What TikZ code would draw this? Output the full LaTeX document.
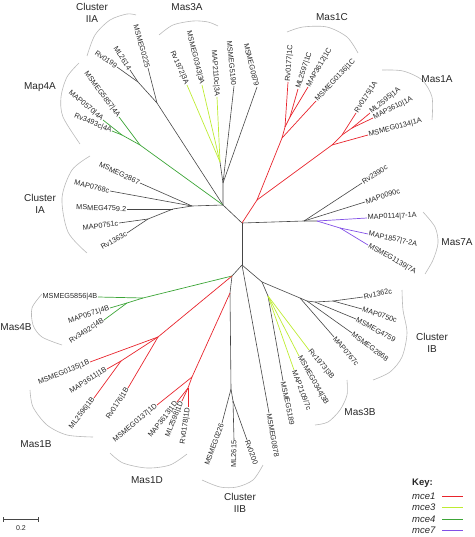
\documentclass[tikz,border=0pt]{standalone}
\usepackage{fontspec}
\setmainfont{Liberation Sans}
\usepackage{xcolor}
\usepackage{tikz}
\definecolor{treeGray}{RGB}{70, 70, 70}
\definecolor{arcGray}{RGB}{185, 185, 185}
\definecolor{mceOne}{RGB}{232, 36, 44}
\definecolor{mceThree}{RGB}{190, 236, 50}
\definecolor{mceFour}{RGB}{60, 165, 55}
\definecolor{mceSeven}{RGB}{130, 80, 230}

\begin{document}
\begin{tikzpicture}[x=1pt, y=-1pt,
	treeLine/.style={draw=treeGray, line width=0.6pt},
	oneLine/.style={draw=mceOne, line width=0.7pt},
	threeLine/.style={draw=mceThree, line width=0.7pt},
	fourLine/.style={draw=mceFour, line width=0.7pt},
	sevenLine/.style={draw=mceSeven, line width=0.7pt},
	arcLine/.style={draw=arcGray, line width=0.6pt},
	leafL/.style={font=\fontsize{7.3}{8}\selectfont, text=black!85, inner sep=0.6pt, anchor=east},
	leafR/.style={font=\fontsize{7.3}{8}\selectfont, text=black!85, inner sep=0.6pt, anchor=west},
	groupLbl/.style={font=\fontsize{10}{12}\selectfont, align=center, text=black!85}]
	\useasboundingbox (0,0) rectangle (474,537);
	
	% Centre of the tree
	\coordinate (top) at (242,223);
	\coordinate (bot) at (242,265);
	\draw[treeLine] (top) -- (bot);
	
	% Upper left part
	\coordinate (a) at (223,205);
	\draw[treeLine] (top) -- (a);
	
	% Cluster IIA
	\coordinate (iia2) at (157,103);
	\coordinate (iia1) at (138,82);
	\draw[treeLine] (a) -- (iia2) -- (iia1);
	\node[leafL, rotate=-35] (rv0199) at (117,67) {Rv0199};
	\node[leafL, rotate=-58] (ml2614) at (130,70) {ML2614};
	\node[leafL, rotate=-74] (ms0225) at (148,68) {MSMEG0225};
	\draw[treeLine] (iia1) -- (rv0199.east);
	\draw[treeLine] (iia1) -- (ml2614.east);
	\draw[treeLine] (iia2) -- (ms0225.east);
	
	% Map4A (mce4)
	\coordinate (m4a) at (140,145);
	\coordinate (m4a2) at (122,135);
	\draw[fourLine] (a) -- (m4a) -- (m4a2);
	\node[leafL, rotate=-53] (ms5857) at (119,117) {MSMEG5857|4A};
	\node[leafL, rotate=-40] (map0570) at (103,120) {MAP0570|4A};
	\node[leafL, rotate=-22] (rv3493c) at (112,131) {Rv3493c|4A};
	\draw[fourLine] (m4a) -- (ms5857.east);
	\draw[fourLine] (m4a2) -- (map0570.east);
	\draw[fourLine] (m4a2) -- (rv3493c.east);
	
	% Mas3A (mce3) and the two MSMEG singles
	\coordinate (s3) at (223,183);
	\coordinate (m3a) at (220,162);
	\draw[treeLine] (a) -- (s3) -- (m3a);
	\node[leafL, rotate=-66] (rv1972) at (187,85) {Rv1972|3A};
	\node[leafL, rotate=-76] (ms0343) at (202,85) {MSMEG0343|3A};
	\node[leafL, rotate=-86] (map2110) at (217,97) {MAP2110c|3A};
	\draw[threeLine] (m3a) -- (rv1972.east);
	\draw[threeLine] (m3a) -- (ms0343.east);
	\draw[threeLine] (m3a) -- (map2110.east);
	\node[leafL, rotate=-84] (ms5190) at (234,86) {MSMEG5190};
	\node[leafL, rotate=-76] (ms0879) at (257,87) {MSMEG0879};
	\draw[treeLine] (s3) -- (ms5190.east);
	\draw[treeLine] (s3) -- (ms0879.east);
	
	% Cluster IA
	\coordinate (ia) at (192,206);
	\coordinate (ia2) at (173,209);
	\coordinate (ia3) at (148,219);
	\draw[treeLine] (a) -- (ia) -- (ia2) -- (ia3);
	\node[leafL, rotate=-25] (ms2867) at (140,183) {MSMEG2867};
	\node[leafL, rotate=-14] (map0768c) at (110,191) {MAP0768c};
	\node[leafL, rotate=-2] (ms4759b) at (127,209) {MSMEG4759.2};
	\node[leafL, rotate=8] (map0751c) at (119,223) {MAP0751c};
	\node[leafL, rotate=30] (rv1363c) at (127,233) {Rv1363c};
	\draw[treeLine] (ia) -- (ms2867.east);
	\draw[treeLine] (ia) -- (map0768c.east);
	\draw[treeLine] (ia2) -- (ms4759b.east);
	\draw[treeLine] (ia3) -- (map0751c.east);
	\draw[treeLine] (ia3) -- (rv1363c.east);
	
	% Right arm: Rv2390c, MAP0090c and Mas7A (mce7)
	\coordinate (m7) at (304,221);
	\coordinate (m7a) at (317,221);
	\coordinate (m7b) at (340,228);
	\draw[treeLine] (top) -- (m7) -- (m7a);
	\draw[sevenLine] (m7a) -- (m7b);
	\node[leafR, rotate=33] (rv2390c) at (362,183) {Rv2390c};
	\node[leafR, rotate=18] (map0090c) at (365,202) {MAP0090c};
	\draw[treeLine] (m7) -- (rv2390c.west);
	\draw[treeLine] (m7) -- (map0090c.west);
	\node[leafR, rotate=3] (map0114) at (367,218) {MAP0114|7-1A};
	\node[leafR, rotate=-12] (map1857) at (368,234) {MAP1857|7-2A};
	\node[leafR, rotate=-30] (ms1139) at (368,245) {MSMEG1139|7A};
	\draw[sevenLine] (m7a) -- (map0114.west);
	\draw[sevenLine] (m7b) -- (map1857.west);
	\draw[sevenLine] (m7b) -- (ms1139.west);
	
	% Mas1C and Mas1A (mce1)
	\coordinate (r) at (257,200);
	\draw[oneLine] (top) -- (r);
	\coordinate (m1c) at (282,138);
	\coordinate (m1c2) at (285,127);
	\coordinate (m1c3) at (290,117);
	\draw[oneLine] (r) -- (m1c) -- (m1c2) -- (m1c3);
	\node[leafR, rotate=47] (ms0136) at (316,101) {MSMEG0136|1C};
	\node[leafR, rotate=86] (rv0177) at (288,82) {Rv0177|1C};
	\node[leafR, rotate=72] (ml2597) at (298,89) {ML2597|1C};
	\node[leafR, rotate=60] (map3612) at (308,87) {MAP3612|1C};
	\draw[oneLine] (m1c) -- (ms0136.west);
	\draw[oneLine] (m1c2) -- (rv0177.west);
	\draw[oneLine] (m1c3) -- (ml2597.west);
	\draw[oneLine] (m1c3) -- (map3612.west);
	\coordinate (m1a) at (332,145);
	\coordinate (m1a2) at (342,135);
	\coordinate (m1a3) at (352,128);
	\draw[oneLine] (r) -- (m1a) -- (m1a2) -- (m1a3);
	\node[leafR, rotate=15] (ms0134) at (368,135) {MSMEG0134|1A};
	\node[leafR, rotate=57] (rv0175) at (356,113) {Rv0175|1A};
	\node[leafR, rotate=39] (ml2595) at (370,113) {ML2595|1A};
	\node[leafR, rotate=26] (map3610) at (373,118) {MAP3610|1A};
	\draw[oneLine] (m1a) -- (ms0134.west);
	\draw[oneLine] (m1a2) -- (rv0175.west);
	\draw[oneLine] (m1a3) -- (ml2595.west);
	\draw[oneLine] (m1a3) -- (map3610.west);
	
	% Lower left part
	\coordinate (l) at (232,276);
	\coordinate (k) at (230,293);
	\coordinate (iib) at (231,389);
	\coordinate (iib2) at (233,401);
	\draw[treeLine] (bot) -- (l) -- (k) -- (iib) -- (iib2);
	
	% Mas4B (mce4)
	\coordinate (m4b) at (143,298);
	\coordinate (m4b2) at (127,303);
	\draw[fourLine] (l) -- (m4b) -- (m4b2);
	\node[leafL] (ms5856) at (98,297) {MSMEG5856|4B};
	\node[leafL, rotate=18] (map0571) at (110,308) {MAP0571|4B};
	\node[leafL, rotate=33] (rv3492c) at (104,320) {Rv3492c|4B};
	\draw[fourLine] (m4b) -- (ms5856.east);
	\draw[fourLine] (m4b2) -- (map0571.east);
	\draw[fourLine] (m4b2) -- (rv3492c.east);
	
	% Mas1B (mce1)
	\coordinate (m1b) at (158,337);
	\coordinate (m1b2) at (121,361);
	\draw[oneLine] (l) -- (m1b) -- (m1b2);
	\node[leafL, rotate=22] (ms0135) at (90,362) {MSMEG0135|1B};
	\node[leafL, rotate=32] (map3611) at (107,369) {MAP3611|1B};
	\node[leafL, rotate=52] (ml2596) at (94,398) {ML2596|1B};
	\node[leafL, rotate=57] (rv0176) at (128,388) {Rv0176|1B};
	\draw[oneLine] (m1b) -- (ms0135.east);
	\draw[oneLine] (m1b2) -- (map3611.east);
	\draw[oneLine] (m1b2) -- (ml2596.east);
	\draw[oneLine] (m1b) -- (rv0176.east);
	
	% Mas1D (mce1)
	\coordinate (m1d) at (192,377);
	\coordinate (m1d2) at (188,388);
	\draw[oneLine] (k) -- (m1d) -- (m1d2);
	\node[leafL, rotate=40] (ms0137) at (157,405) {MSMEG0137|1D};
	\node[leafL, rotate=52] (map3613) at (177,402) {MAP3613|1D};
	\node[leafL, rotate=68] (ml2598) at (182,401) {ML2598|1D};
	\node[leafL, rotate=82] (rv0178) at (188,407) {Rv0178|1D};
	\draw[oneLine] (m1d) -- (ms0137.east);
	\draw[oneLine] (m1d2) -- (map3613.east);
	\draw[oneLine] (m1d2) -- (ml2598.east);
	\draw[oneLine] (m1d2) -- (rv0178.east);
	
	% Cluster IIB
	\node[leafL, rotate=70] (ms0226) at (222,423) {MSMEG0226};
	\node[leafL, rotate=89] (ml2615) at (234,440) {ML2615};
	\node[leafR, rotate=-70] (rv0200) at (247,440) {Rv0200};
	\draw[treeLine] (iib) -- (ms0226.east);
	\draw[treeLine] (iib2) -- (ml2615.east);
	\draw[treeLine] (iib2) -- (rv0200.west);
	\node[leafR, rotate=-80] (ms0878) at (269,413) {MSMEG0878};
	\draw[treeLine] (bot) -- (ms0878.west);
	
	% Lower right part
	\coordinate (d) at (262,282);
	\coordinate (e) at (268,296);
	\draw[treeLine] (bot) -- (d) -- (e);
	\node[leafR, rotate=-78] (ms5189) at (283,381) {MSMEG5189};
	\draw[treeLine] (e) -- (ms5189.west);
	
	% Mas3B (mce3)
	\node[leafR, rotate=-50] (rv1973) at (309,350) {Rv1973|3B};
	\node[leafR, rotate=-60] (ms0344) at (299,356) {MSMEG0344|3B};
	\node[leafR, rotate=-69] (map2109) at (294,370) {MAP2109/7c};
	\draw[threeLine] (e) -- (rv1973.west);
	\draw[threeLine] (e) -- (ms0344.west);
	\draw[threeLine] (e) -- (map2109.west);
	
	% Cluster IB
	\coordinate (ib) at (300,298);
	\coordinate (ib2) at (307,301);
	\coordinate (ib3) at (315,302);
	\coordinate (ib4) at (333,301);
	\draw[treeLine] (d) -- (ib) -- (ib2) -- (ib3) -- (ib4);
	\node[leafR, rotate=-50] (map0767c) at (334,337) {MAP0767c};
	\node[leafR, rotate=-37] (ms2868) at (352,333) {MSMEG2868};
	\node[leafR, rotate=-29] (ms4759) at (356,319) {MSMEG4759};
	\node[leafR, rotate=-18] (map0750c) at (362,309) {MAP0750c};
	\node[leafR, rotate=12] (rv1362c) at (363,297) {Rv1362c};
	\draw[treeLine] (ib) -- (map0767c.west);
	\draw[treeLine] (ib2) -- (ms2868.west);
	\draw[treeLine] (ib3) -- (ms4759.west);
	\draw[treeLine] (ib4) -- (map0750c.west);
	\draw[treeLine] (ib4) -- (rv1362c.west);
	
	% Group arcs
	\draw[arcLine] plot[smooth] coordinates {(87,56) (95,35) (110,20) (127,14) (136,15)};
	\draw[arcLine] plot[smooth] coordinates {(159,35) (173,25) (193,21) (208,22) (218,26)};
	\draw[arcLine] plot[smooth] coordinates {(79,63) (67,77) (61,97) (63,117) (80,144)};
	\draw[arcLine] plot[smooth] coordinates {(90,156) (72,170) (62,198) (68,232) (87,253)};
	\draw[arcLine] plot[smooth] coordinates {(42,294) (32,308) (33,325) (42,337) (62,345)};
	\draw[arcLine] plot[smooth] coordinates {(30,390) (33,407) (47,425) (67,435) (93,437)};
	\draw[arcLine] plot[smooth] coordinates {(110,453) (123,463) (147,468) (170,465) (187,454)};
	\draw[arcLine] plot[smooth] coordinates {(202,480) (220,487) (237,487) (253,480) (263,465)};
	\draw[arcLine] plot[smooth] coordinates {(347,380) (347,395) (340,410) (328,422) (315,425)};
	\draw[arcLine] plot[smooth] coordinates {(402,290) (403,310) (407,333) (402,357) (390,372) (373,380)};
	\draw[arcLine] plot[smooth] coordinates {(423,212) (435,227) (438,243) (433,260) (425,274)};
	\draw[arcLine] plot[smooth] coordinates {(287,32) (303,27) (327,27) (347,37) (358,53)};
	\draw[arcLine] plot[smooth] coordinates {(382,70) (403,71) (422,80) (432,97) (432,120)};
	
	% Group labels
	\node[groupLbl] (lblIIA) at (92,13) {Cluster\\IIA};
	\node[groupLbl] (lblMas3A) at (187,7) {Mas3A};
	\node[groupLbl] (lblMap4A) at (40,87) {Map4A};
	\node[groupLbl] (lblIA) at (40,204) {Cluster\\IA};
	\node[groupLbl] (lblMas4B) at (16,327) {Mas4B};
	\node[groupLbl] (lblMas1B) at (36,444) {Mas1B};
	\node[groupLbl] (lblMas1D) at (147,480) {Mas1D};
	\node[groupLbl] (lblIIB) at (240,503) {Cluster\\IIB};
	\node[groupLbl] (lblMas3B) at (360,412) {Mas3B};
	\node[groupLbl] (lblIB) at (432,343) {Cluster\\IB};
	\node[groupLbl] (lblMas7A) at (457,242) {Mas7A};
	\node[groupLbl] (lblMas1C) at (332,17) {Mas1C};
	\node[groupLbl] (lblMas1A) at (437,79) {Mas1A};
	
	% Scale bar
	\coordinate (barL) at (3,519);
	\coordinate (barR) at (38,519);
	\draw[treeLine] (barL) -- (barR);
	\draw[treeLine] ([yshift=-2.5pt]barL) -- ([yshift=2.5pt]barL);
	\draw[treeLine] ([yshift=-2.5pt]barR) -- ([yshift=2.5pt]barR);
	\node[font=\fontsize{7}{8}\selectfont, text=black!85] (barLbl) at (21,528) {0.2};
	
	% Key
	\node[anchor=west, font=\fontsize{9.5}{11}\bfseries, text=black!85, inner sep=0pt] (keyHead) at (412,483) {Key:};
	\node[anchor=west, font=\fontsize{9.5}{11}\itshape, text=black!85, inner sep=0pt] (keyOne) at (412,496) {mce1};
	\node[anchor=west, font=\fontsize{9.5}{11}\itshape, text=black!85, inner sep=0pt] (keyThree) at (412,507.5) {mce3};
	\node[anchor=west, font=\fontsize{9.5}{11}\itshape, text=black!85, inner sep=0pt] (keyFour) at (412,519) {mce4};
	\node[anchor=west, font=\fontsize{9.5}{11}\itshape, text=black!85, inner sep=0pt] (keySeven) at (412,530.5) {mce7};
	\draw[oneLine] (442,496) -- (463,496);
	\draw[threeLine] (442,507.5) -- (463,507.5);
	\draw[fourLine] (442,519) -- (463,519);
	\draw[sevenLine] (442,530.5) -- (463,530.5);
\end{tikzpicture}
\end{document}
